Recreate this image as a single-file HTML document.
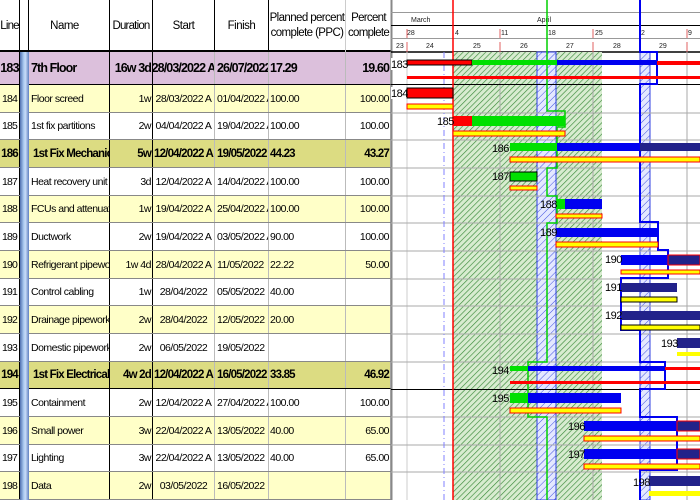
<!DOCTYPE html>
<html><head><meta charset="utf-8"><style>
body{margin:0;width:700px;height:500px;overflow:hidden;background:#fff;font-family:"Liberation Sans",Arial,sans-serif;position:relative}
.r{position:absolute;left:0;width:391px;border-bottom:1px solid #888;font-size:10.5px;letter-spacing:-0.5px;box-sizing:border-box}
.c{position:absolute;top:0;height:100%;display:flex;align-items:center;overflow:hidden;white-space:nowrap;box-sizing:border-box;border-right:1px solid #bbb}
.y{background:#ffffc8}.w{background:#fff}.o{background:#dcdc82;font-weight:bold;font-size:11.5px;letter-spacing:-0.8px}.p{background:#dcc0dc;font-weight:bold;font-size:12.5px;letter-spacing:-0.9px}
.l{left:0;width:20px;justify-content:center;border-right:1px solid #000;letter-spacing:-0.8px}
.n{left:29px;width:81px;padding-left:2px;border-right:1px solid #000}
.d{left:110px;width:43px;justify-content:flex-end;padding-right:1px;border-right:1px solid #000}
.s{left:153px;width:62px;justify-content:center}
.f{left:215px;width:54px;padding-left:2px}
.pp{left:269px;width:77px;padding-left:1px}
.pc{left:346px;width:45px;justify-content:flex-end;padding-right:1px}
.h{position:absolute;top:0;height:52px;display:flex;align-items:center;justify-content:center;text-align:center;font-size:11.5px;letter-spacing:-0.5px;border-right:1px solid #000;box-sizing:border-box;line-height:15px;overflow:hidden}
</style></head><body>
<div style="position:absolute;left:0;top:0;width:391px;height:52px;border-bottom:2px solid #000;box-sizing:border-box">
<div class="h" style="left:0;width:20px;letter-spacing:-0.8px">Line</div>
<div class="h" style="left:20px;width:90px">Name</div>
<div class="h" style="left:110px;width:43px;letter-spacing:-0.8px">Duration</div>
<div class="h" style="left:153px;width:62px">Start</div>
<div class="h" style="left:215px;width:54px">Finish</div>
<div class="h" style="left:269px;width:77px;border-right:1px solid #ccc;letter-spacing:-0.6px">Planned percent complete (PPC)</div>
<div class="h" style="left:346px;width:45px;border-right:none;letter-spacing:-0.7px">Percent complete</div>
</div>
<div class="r p" style="top:52px;height:33px;border-bottom:1px solid #000"><div class="c l">183</div><div class="c n" style="padding-left:2px">7th Floor</div><div class="c d">16w 3d</div><div class="c s">28/03/2022 A</div><div class="c f">26/07/2022</div><div class="c pp">17.29</div><div class="c pc">19.60</div></div>
<div class="r y" style="top:85px;height:28px"><div class="c l">184</div><div class="c n">Floor screed</div><div class="c d">1w</div><div class="c s">28/03/2022 A</div><div class="c f">01/04/2022 A</div><div class="c pp">100.00</div><div class="c pc">100.00</div></div>
<div class="r w" style="top:113px;height:27px"><div class="c l">185</div><div class="c n">1st fix partitions</div><div class="c d">2w</div><div class="c s">04/04/2022 A</div><div class="c f">19/04/2022 A</div><div class="c pp">100.00</div><div class="c pc">100.00</div></div>
<div class="r o" style="top:140px;height:28px"><div class="c l">186</div><div class="c n" style="padding-left:4px">1st Fix Mechanical</div><div class="c d">5w</div><div class="c s">12/04/2022 A</div><div class="c f">19/05/2022</div><div class="c pp">44.23</div><div class="c pc">43.27</div></div>
<div class="r w" style="top:168px;height:28px"><div class="c l">187</div><div class="c n">Heat recovery unit</div><div class="c d">3d</div><div class="c s">12/04/2022 A</div><div class="c f">14/04/2022 A</div><div class="c pp">100.00</div><div class="c pc">100.00</div></div>
<div class="r y" style="top:196px;height:27px"><div class="c l">188</div><div class="c n">FCUs and attenuators</div><div class="c d">1w</div><div class="c s">19/04/2022 A</div><div class="c f">25/04/2022 A</div><div class="c pp">100.00</div><div class="c pc">100.00</div></div>
<div class="r w" style="top:223px;height:28px"><div class="c l">189</div><div class="c n">Ductwork</div><div class="c d">2w</div><div class="c s">19/04/2022 A</div><div class="c f">03/05/2022 A</div><div class="c pp">90.00</div><div class="c pc">100.00</div></div>
<div class="r y" style="top:251px;height:28px"><div class="c l">190</div><div class="c n">Refrigerant pipework</div><div class="c d">1w 4d</div><div class="c s">28/04/2022 A</div><div class="c f">11/05/2022</div><div class="c pp">22.22</div><div class="c pc">50.00</div></div>
<div class="r w" style="top:279px;height:27px"><div class="c l">191</div><div class="c n">Control cabling</div><div class="c d">1w</div><div class="c s">28/04/2022</div><div class="c f">05/05/2022</div><div class="c pp">40.00</div><div class="c pc"></div></div>
<div class="r y" style="top:306px;height:28px"><div class="c l">192</div><div class="c n">Drainage pipework</div><div class="c d">2w</div><div class="c s">28/04/2022</div><div class="c f">12/05/2022</div><div class="c pp">20.00</div><div class="c pc"></div></div>
<div class="r w" style="top:334px;height:28px"><div class="c l">193</div><div class="c n">Domestic pipework</div><div class="c d">2w</div><div class="c s">06/05/2022</div><div class="c f">19/05/2022</div><div class="c pp"></div><div class="c pc"></div></div>
<div class="r o" style="top:362px;height:27px;border-bottom:1px solid #000"><div class="c l">194</div><div class="c n" style="padding-left:4px">1st Fix Electrical</div><div class="c d">4w 2d</div><div class="c s">12/04/2022 A</div><div class="c f">16/05/2022</div><div class="c pp">33.85</div><div class="c pc">46.92</div></div>
<div class="r w" style="top:389px;height:28px"><div class="c l">195</div><div class="c n">Containment</div><div class="c d">2w</div><div class="c s">12/04/2022 A</div><div class="c f">27/04/2022 A</div><div class="c pp">100.00</div><div class="c pc">100.00</div></div>
<div class="r y" style="top:417px;height:28px"><div class="c l">196</div><div class="c n">Small power</div><div class="c d">3w</div><div class="c s">22/04/2022 A</div><div class="c f">13/05/2022</div><div class="c pp">40.00</div><div class="c pc">65.00</div></div>
<div class="r w" style="top:445px;height:27px"><div class="c l">197</div><div class="c n">Lighting</div><div class="c d">3w</div><div class="c s">22/04/2022 A</div><div class="c f">13/05/2022</div><div class="c pp">40.00</div><div class="c pc">65.00</div></div>
<div class="r y" style="top:472px;height:28px"><div class="c l">198</div><div class="c n">Data</div><div class="c d">2w</div><div class="c s">03/05/2022</div><div class="c f">16/05/2022</div><div class="c pp"></div><div class="c pc"></div></div>
<div style="position:absolute;left:20px;top:52px;width:9px;height:448px;background:linear-gradient(90deg,#5070b0,#a8c8f0 40%,#c8dcf8 60%,#6080c0)"></div>
<div style="position:absolute;left:20px;top:0;width:9px;height:52px;border-right:1px solid #000;box-sizing:border-box"></div>

<svg style="position:absolute;left:0;top:0" width="700" height="500" viewBox="0 0 700 500">
<defs>
<pattern id="gh" width="4" height="4" patternUnits="userSpaceOnUse" patternTransform="rotate(45)"><rect width="4" height="4" fill="#d8ecd0"/><line x1="0" y1="0" x2="0" y2="4" stroke="#3a8a3a" stroke-width="1.3"/></pattern>
<pattern id="bh" width="5" height="5" patternUnits="userSpaceOnUse" patternTransform="rotate(45)"><rect width="5" height="5" fill="#e4e8ff"/><line x1="0" y1="0" x2="0" y2="5" stroke="#4050e0" stroke-width="1"/></pattern>
</defs>
<rect x="391" y="0" width="309" height="500" fill="#fff"/>
<line x1="391.5" y1="0" x2="391.5" y2="500" stroke="#888" stroke-width="2"/>
<line x1="391" y1="12.5" x2="700" y2="12.5" stroke="#999"/>
<line x1="391" y1="25.5" x2="700" y2="25.5" stroke="#000"/>
<line x1="391" y1="38.5" x2="700" y2="38.5" stroke="#999"/>
<line x1="391" y1="52" x2="700" y2="52" stroke="#000" stroke-width="1.5"/>
<g font-size="7" font-family="Liberation Sans" fill="#222">
<text x="411" y="22">March</text><text x="537" y="22">April</text>
<text x="407" y="35">28</text><text x="455" y="35">4</text><text x="501" y="35">11</text><text x="548" y="35">18</text><text x="595" y="35">25</text><text x="641" y="35">2</text><text x="688" y="35">9</text>
<text x="396" y="48">23</text><text x="426" y="48">24</text><text x="473" y="48">25</text><text x="520" y="48">26</text><text x="566" y="48">27</text><text x="613" y="48">28</text><text x="659" y="48">29</text>
</g>
<g stroke="#e06060"><line x1="407" y1="29" x2="407" y2="38"/><line x1="500" y1="29" x2="500" y2="38"/><line x1="593" y1="29" x2="593" y2="38"/><line x1="687" y1="29" x2="687" y2="38"/><line x1="407" y1="42" x2="407" y2="52"/><line x1="453" y1="42" x2="453" y2="52"/><line x1="500" y1="42" x2="500" y2="52"/><line x1="593" y1="42" x2="593" y2="52"/><line x1="687" y1="42" x2="687" y2="52"/></g>
<rect x="453" y="52" width="149" height="448" fill="url(#gh)"/>
<rect x="537" y="52" width="19" height="448" fill="url(#bh)" stroke="#3040e0" stroke-width="1"/>
<rect x="640" y="52" width="10" height="448" fill="url(#bh)" stroke="#3040e0" stroke-width="1"/>
<g stroke="#aaa" stroke-width="1">
<line x1="500" y1="52" x2="500" y2="500"/><line x1="593" y1="52" x2="593" y2="500"/><line x1="687" y1="52" x2="687" y2="500"/><line x1="407" y1="52" x2="407" y2="500" stroke="#ccc"/>
<line x1="391" y1="113" x2="700" y2="113"/><line x1="391" y1="140" x2="700" y2="140"/><line x1="391" y1="168" x2="700" y2="168"/><line x1="391" y1="196" x2="700" y2="196"/><line x1="391" y1="223" x2="700" y2="223"/><line x1="391" y1="251" x2="700" y2="251"/><line x1="391" y1="279" x2="700" y2="279"/><line x1="391" y1="306" x2="700" y2="306"/><line x1="391" y1="334" x2="700" y2="334"/><line x1="391" y1="362" x2="700" y2="362"/><line x1="391" y1="417" x2="700" y2="417"/><line x1="391" y1="445" x2="700" y2="445"/><line x1="391" y1="472" x2="700" y2="472"/>
</g>
<line x1="391" y1="84.5" x2="700" y2="84.5" stroke="#000"/>
<line x1="391" y1="389.5" x2="700" y2="389.5" stroke="#000"/>
<line x1="444" y1="52" x2="444" y2="500" stroke="#8080ff" stroke-dasharray="6,3,1,3"/>
<line x1="453" y1="0" x2="453" y2="500" stroke="#f00" stroke-width="1.5"/>
<polyline fill="none" stroke="#00d000" stroke-width="1.5" points="547,0 547,84 547,111 565,111 565,127 557,127 557,168 547,168 547,196 557,196 557,223 547,223 547,362 528,362 528,389 528,417 547,417 547,500"/>
<polyline fill="none" stroke="#0000f0" stroke-width="2" points="640,0 640,52 657,52 657,84 640,84 640,222 658,222 658,250 668,250 668,278 621,278 621,330 640,330 640,362 665,362 665,389 640,389 640,417 677,417 677,470 640,470 640,500"/>
<g stroke-width="1">
<rect x="407" y="60" width="65" height="5" fill="#f00" stroke="#000"/><rect x="472" y="60" width="85" height="5" fill="#00e000"/><rect x="557" y="60" width="100" height="5" fill="#0000f0"/><rect x="657" y="61" width="43" height="4" fill="#f00"/>
<rect x="407" y="76" width="293" height="3" fill="#f00"/>
<rect x="407" y="88" width="46" height="10" fill="#f00" stroke="#000"/><rect x="407" y="104" width="46" height="5" fill="#ff0" stroke="#f00"/>
<rect x="453" y="116" width="19" height="10" fill="#f00"/><rect x="472" y="116" width="93" height="10" fill="#00e000"/><rect x="453" y="131" width="112" height="5" fill="#ff0" stroke="#f00"/>
<rect x="510" y="143" width="47" height="8" fill="#00e000"/><rect x="557" y="143" width="83" height="8" fill="#0000f0"/><rect x="640" y="143" width="60" height="8" fill="#22228a"/><rect x="510" y="157" width="190" height="5" fill="#ff0" stroke="#f00"/>
<rect x="510" y="172" width="27" height="9" fill="#00e000" stroke="#000"/><rect x="510" y="186" width="27" height="4" fill="#ff0" stroke="#f00"/>
<rect x="556" y="199" width="9" height="10" fill="#00e000"/><rect x="565" y="199" width="37" height="10" fill="#0000f0"/><rect x="556" y="214" width="46" height="4" fill="#ff0" stroke="#f00"/>
<rect x="556" y="228" width="102" height="9" fill="#0000f0"/><rect x="556" y="242" width="102" height="5" fill="#ff0" stroke="#f00"/>
<rect x="621" y="255" width="47" height="10" fill="#0000f0"/><rect x="668" y="255" width="32" height="10" fill="#22228a" stroke="#f00"/><rect x="621" y="270" width="79" height="4" fill="#ff0" stroke="#f00"/>
<rect x="621" y="283" width="56" height="9" fill="#22228a"/><rect x="621" y="297" width="56" height="5" fill="#ff0" stroke="#000"/>
<rect x="621" y="311" width="79" height="9" fill="#22228a"/><rect x="621" y="325" width="79" height="5" fill="#ff0" stroke="#000"/>
<rect x="677" y="338" width="23" height="10" fill="#22228a"/><rect x="677" y="352" width="23" height="4" fill="#ff0"/>
<rect x="510" y="366" width="18" height="5" fill="#00e000"/><rect x="528" y="366" width="137" height="5" fill="#0000f0"/><rect x="665" y="367" width="35" height="3" fill="#f00"/><rect x="510" y="381" width="190" height="3" fill="#f00"/>
<rect x="510" y="393" width="18" height="10" fill="#00e000"/><rect x="528" y="393" width="93" height="10" fill="#0000f0"/><rect x="510" y="408" width="111" height="5" fill="#ff0" stroke="#f00"/>
<rect x="584" y="421" width="93" height="10" fill="#0000f0"/><rect x="677" y="421" width="23" height="10" fill="#22228a" stroke="#f00"/><rect x="584" y="436" width="116" height="5" fill="#ff0" stroke="#f00"/>
<rect x="584" y="449" width="93" height="10" fill="#0000f0"/><rect x="677" y="449" width="23" height="10" fill="#22228a" stroke="#f00"/><rect x="584" y="464" width="116" height="5" fill="#ff0" stroke="#f00"/>
<rect x="649" y="476" width="51" height="10" fill="#22228a"/><rect x="649" y="491" width="51" height="5" fill="#ff0"/>
</g>
<g font-size="11" font-family="Liberation Sans" fill="#000" letter-spacing="-0.5">
<rect x="391" y="58" width="15" height="12" fill="#fff"/><text x="391" y="68">183</text>
<rect x="391" y="87" width="15" height="12" fill="#fff"/><text x="391" y="97">184</text>
<text x="437" y="125">185</text><text x="492" y="152">186</text><text x="492" y="180">187</text><text x="540" y="208">188</text><text x="540" y="236">189</text>
<text x="605" y="263">190</text><text x="605" y="291">191</text><text x="605" y="319">192</text><text x="661" y="347">193</text>
<text x="492" y="374">194</text><text x="492" y="402">195</text><text x="568" y="430">196</text><text x="568" y="458">197</text><text x="633" y="486">198</text>
</g>
</svg>
</body></html>
